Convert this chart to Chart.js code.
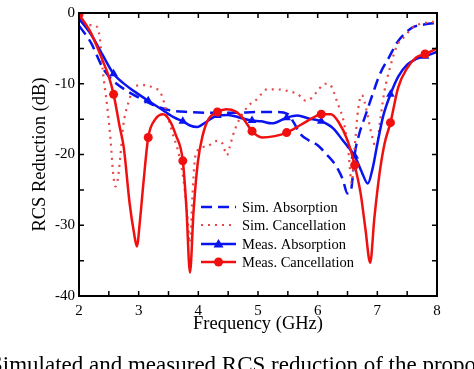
<!DOCTYPE html>
<html>
<head>
<meta charset="utf-8">
<script src="https://cdn.jsdelivr.net/npm/chart.js@4.4.1/dist/chart.umd.min.js"></script>
<style>
  html, body { margin: 0; padding: 0; background: #fff; }
  #wrap { position: relative; width: 474px; height: 369px; overflow: hidden; }
  #caption { position: absolute; left: -10px; top: 352px; font: 23px "Liberation Serif", serif; white-space: nowrap; color: #000; }
</style>
</head>
<body>
<div id="wrap">
  <canvas id="chart" width="474" height="369"></canvas>
  <div id="caption">Simulated and measured RCS reduction of the proposed</div>
</div>
<script>
// данные (частота в ГГц, снижение ЭПР в дБ)
const simAbsFreq = [2.0, 2.2, 2.4, 2.55, 2.8, 3.06, 3.3, 3.55, 3.85, 4.2, 4.6, 5.0, 5.3, 5.5, 5.6, 5.7, 5.85, 6.0, 6.15, 6.3, 6.42, 6.5, 6.56, 6.62, 6.7, 6.8, 6.92, 7.05, 7.2, 7.33, 7.45, 7.6, 7.8, 8.0];
const simAbsDb = [-1.8, -4.2, -7.8, -9.4, -11.0, -12.2, -13.2, -13.8, -14.0, -14.1, -14.1, -14.0, -14.0, -14.3, -15.5, -17.0, -18.0, -18.7, -20.0, -21.5, -23.5, -25.5, -25.0, -20.0, -17.0, -14.5, -11.5, -8.5, -6.2, -4.2, -3.0, -2.0, -1.6, -1.4];

const simCancFreq = [2.0, 2.15, 2.28, 2.35, 2.4, 2.47, 2.53, 2.57, 2.61, 2.65, 2.69, 2.74, 2.82, 2.95, 3.1, 3.25, 3.37, 3.47, 3.56, 3.66, 3.75, 3.81, 3.86, 3.9, 3.94, 4.0, 4.16, 4.3, 4.4, 4.48, 4.53, 4.58, 4.66, 4.84, 4.98, 5.15, 5.3, 5.49, 5.67, 5.8, 5.9, 6.0, 6.12, 6.2, 6.34, 6.44, 6.52, 6.57, 6.62, 6.68, 6.74, 6.82, 6.9, 6.98, 7.05, 7.12, 7.22, 7.33, 7.45, 7.6, 7.8, 8.0];
const simCancDb = [-0.5, -1.7, -1.8, -3.6, -8.3, -13.0, -18.0, -22.5, -24.5, -23.5, -20.5, -16.0, -12.9, -10.3, -10.2, -10.6, -11.3, -14.0, -16.8, -19.5, -23.5, -28.0, -32.5, -26.0, -20.8, -19.3, -18.8, -18.1, -18.4, -20.1, -18.8, -17.3, -15.5, -13.1, -12.2, -10.8, -10.8, -11.0, -11.5, -12.4, -12.0, -11.0, -10.0, -10.1, -12.9, -15.5, -20.0, -24.0, -19.0, -13.5, -11.6, -13.8, -17.0, -19.0, -15.0, -11.0, -7.5, -4.6, -3.4, -2.0, -1.4, -1.2];

const measAbsFreq = [2.0, 2.2, 2.4, 2.58, 2.8, 3.0, 3.16, 3.4, 3.6, 3.74, 3.86, 3.98, 4.15, 4.32, 4.5, 4.7, 4.9, 5.05, 5.23, 5.48, 5.66, 5.85, 6.06, 6.26, 6.42, 6.62, 6.74, 6.84, 6.92, 7.0, 7.1, 7.22, 7.35, 7.5, 7.65, 7.8, 8.0];
const measAbsDb = [-0.8, -3.0, -6.0, -8.6, -10.3, -11.5, -12.4, -13.7, -14.8, -15.3, -15.9, -16.1, -15.3, -14.5, -14.4, -14.8, -15.2, -15.3, -15.6, -14.8, -14.5, -14.9, -15.3, -16.3, -18.0, -20.2, -22.5, -24.1, -22.0, -18.5, -14.5, -11.5, -9.0, -7.3, -6.5, -6.1, -5.5];
const measAbsMarks = [2.58, 3.16, 3.74, 4.32, 4.9, 5.48, 6.06, 6.62, 7.22, 7.8];

const measCancFreq = [2.0, 2.2, 2.4, 2.5, 2.58, 2.68, 2.75, 2.85, 2.92, 2.97, 3.02, 3.08, 3.16, 3.28, 3.41, 3.52, 3.62, 3.74, 3.8, 3.86, 3.92, 3.99, 4.07, 4.17, 4.32, 4.47, 4.62, 4.76, 4.9, 5.07, 5.28, 5.48, 5.72, 5.9, 6.06, 6.22, 6.35, 6.5, 6.62, 6.72, 6.8, 6.88, 6.95, 7.04, 7.12, 7.22, 7.35, 7.5, 7.65, 7.8, 8.0];
const measCancDb = [-0.2, -2.8, -6.8, -9.0, -11.5, -16.0, -19.0, -27.0, -31.0, -33.0, -29.5, -24.0, -17.6, -15.0, -14.3, -15.2, -17.2, -20.9, -27.5, -36.7, -28.0, -21.2, -17.4, -15.0, -14.0, -13.6, -13.9, -15.0, -16.7, -17.6, -17.4, -16.9, -15.8, -14.9, -14.3, -14.3, -15.4, -18.0, -21.5, -25.5, -30.5, -35.3, -29.0, -22.5, -18.5, -15.5, -10.5, -7.8, -6.3, -5.8, -5.0];
const measCancMarks = [2.0, 2.58, 3.16, 3.74, 4.32, 4.9, 5.48, 6.06, 6.62, 7.22, 7.8];

const xTicks = [2, 3, 4, 5, 6, 7, 8];
const yTicks = [0, -10, -20, -30, -40];

const FONT = '"Liberation Serif", "Times New Roman", serif';
const BLUE = "#0a14f0";
const RED = "#f01010";
const DOT_RED = "#e84848";

function toPoints(xs, ys) {
  return xs.map((x, i) => ({ x: x, y: ys[i] }));
}

// маркеры только в отмеченных точках
function markerRadius(marks, r) {
  return (c) => {
    const p = c.raw;
    if (!p) return 0;
    return marks.some((m) => Math.abs(m - p.x) < 1e-6) ? r : 0;
  };
}

// рамка и внутренние засечки со всех сторон
const frameTicks = {
  id: "frameTicks",
  afterDraw(chart) {
    const { ctx, chartArea: a, scales } = chart;
    const x = scales.x, y = scales.y;
    ctx.save();
    ctx.strokeStyle = "#000";
    ctx.lineWidth = 1.5;
    ctx.beginPath();
    for (let v = 2; v <= 8.001; v += 0.5) {
      const px = x.getPixelForValue(v);
      ctx.moveTo(px, a.bottom); ctx.lineTo(px, a.bottom - 5);
      ctx.moveTo(px, a.top); ctx.lineTo(px, a.top + 5);
    }
    for (let v = 0; v >= -40; v -= 5) {
      const py = y.getPixelForValue(v);
      ctx.moveTo(a.left, py); ctx.lineTo(a.left + 5, py);
      ctx.moveTo(a.right, py); ctx.lineTo(a.right - 5, py);
    }
    ctx.stroke();
    ctx.lineWidth = 2;
    ctx.strokeRect(a.left, a.top, a.right - a.left, a.bottom - a.top);

    // подписи осей
    ctx.fillStyle = "#000";
    ctx.font = "18.5px " + FONT;
    ctx.textAlign = "center";
    ctx.textBaseline = "middle";
    ctx.fillText("Frequency (GHz)", (a.left + a.right) / 2, 324);
    ctx.translate(40, (a.top + a.bottom) / 2);
    ctx.rotate(-Math.PI / 2);
    ctx.fillText("RCS Reduction (dB)", 0, 0);
    ctx.restore();
  },
};

// легенда внутри графика
const innerLegend = {
  id: "innerLegend",
  afterDatasetsDraw(chart) {
    const ctx = chart.ctx;
    const x0 = 201, x1 = 236, tx = 242;
    const rows = [207, 225, 244, 262];
    ctx.save();
    chart.data.datasets.forEach((ds, i) => {
      const yy = rows[i];
      ctx.strokeStyle = ds.borderColor;
      ctx.lineWidth = ds.borderWidth;
      ctx.setLineDash(ds.borderDash || []);
      ctx.beginPath();
      ctx.moveTo(x0, yy);
      ctx.lineTo(x1, yy);
      ctx.stroke();
      ctx.setLineDash([]);
      if (ds.legendMarker) {
        ctx.fillStyle = ds.borderColor;
        ctx.beginPath();
        const cx = (x0 + x1) / 2;
        if (ds.legendMarker === "triangle") {
          ctx.moveTo(cx, yy - 5);
          ctx.lineTo(cx + 5, yy + 3.5);
          ctx.lineTo(cx - 5, yy + 3.5);
          ctx.closePath();
        } else {
          ctx.arc(cx, yy, 4.5, 0, Math.PI * 2);
        }
        ctx.fill();
      }
      ctx.fillStyle = "#000";
      ctx.font = "14.5px " + FONT;
      ctx.textAlign = "left";
      ctx.textBaseline = "middle";
      ctx.fillText(ds.label, tx, yy + 1);
    });
    ctx.restore();
  },
};

const ctx = document.getElementById("chart").getContext("2d");
new Chart(ctx, {
  type: "line",
  data: {
    datasets: [
      {
        label: "Sim. Absorption",
        data: toPoints(simAbsFreq, simAbsDb),
        borderColor: BLUE,
        borderWidth: 2.5,
        borderDash: [11, 6],
        pointRadius: 0,
        cubicInterpolationMode: "monotone",
        order: 4,
      },
      {
        label: "Sim. Cancellation",
        data: toPoints(simCancFreq, simCancDb),
        borderColor: DOT_RED,
        borderWidth: 2.2,
        borderDash: [2, 5],
        pointRadius: 0,
        cubicInterpolationMode: "monotone",
        order: 3,
      },
      {
        label: "Meas. Absorption",
        data: toPoints(measAbsFreq, measAbsDb),
        borderColor: BLUE,
        backgroundColor: BLUE,
        borderWidth: 2.5,
        pointStyle: "triangle",
        pointRadius: markerRadius(measAbsMarks, 5),
        pointBorderWidth: 0,
        cubicInterpolationMode: "monotone",
        legendMarker: "triangle",
        order: 2,
      },
      {
        label: "Meas. Cancellation",
        data: toPoints(measCancFreq, measCancDb),
        borderColor: RED,
        backgroundColor: RED,
        borderWidth: 2.5,
        pointStyle: "circle",
        pointRadius: markerRadius(measCancMarks, 4.5),
        pointBorderWidth: 0,
        cubicInterpolationMode: "monotone",
        legendMarker: "circle",
        order: 1,
      },
    ],
  },
  options: {
    responsive: false,
    animation: false,
    devicePixelRatio: 1,
    layout: { padding: { left: 0, right: 37, top: 7, bottom: 0 } },
    plugins: {
      legend: { display: false },
      tooltip: { enabled: false },
    },
    scales: {
      x: {
        type: "linear",
        min: 2,
        max: 8,
        grid: { display: false, drawTicks: false },
        border: { display: false },
        afterBuildTicks: (s) => { s.ticks = xTicks.map((v) => ({ value: v })); },
        afterFit: (s) => { s.height = 73; },
        ticks: { color: "#000", padding: 6, font: { family: FONT, size: 15 } },
      },
      y: {
        type: "linear",
        min: -40,
        max: 0,
        grid: { display: false, drawTicks: false },
        border: { display: false },
        afterBuildTicks: (s) => { s.ticks = yTicks.map((v) => ({ value: v })); },
        afterFit: (s) => { s.width = 79; },
        ticks: { color: "#000", padding: 4, font: { family: FONT, size: 15 } },
      },
    },
  },
  plugins: [frameTicks, innerLegend],
});
</script>
</body>
</html>
